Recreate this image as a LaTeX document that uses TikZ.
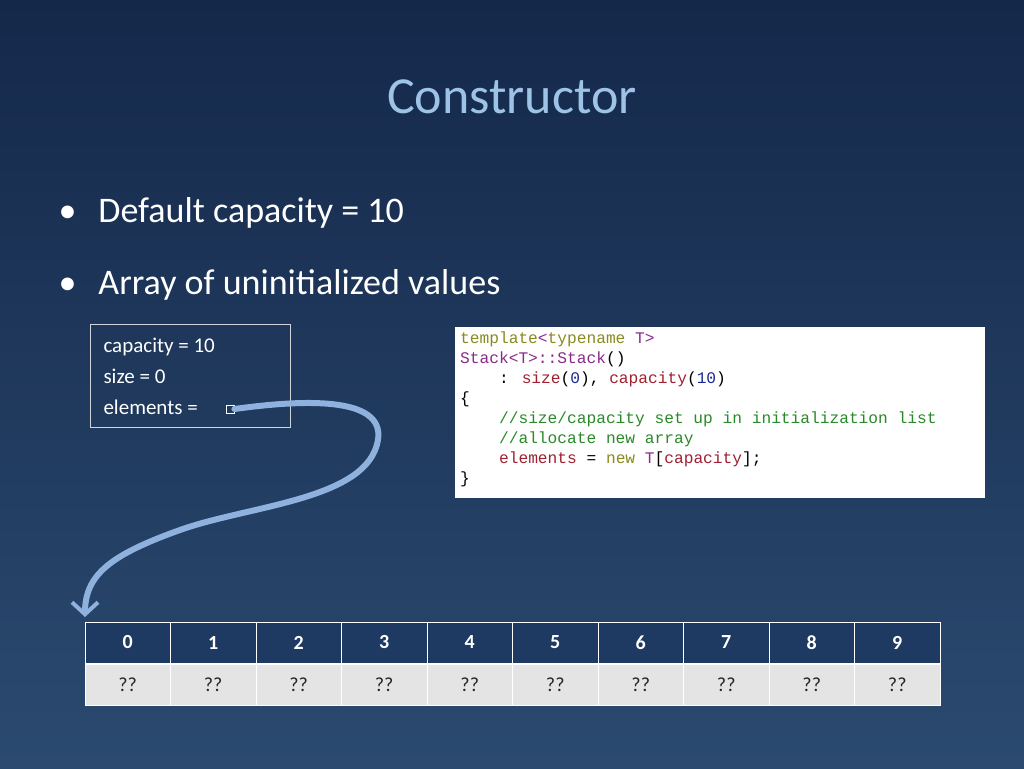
\documentclass[tikz,border=0pt]{standalone}
\usepackage{fontspec}
\setmainfont{Carlito}
\newfontfamily\codefont{Liberation Mono}
\usetikzlibrary{arrows.meta}
\definecolor{bgtop}{HTML}{14284A}
\definecolor{bgbot}{HTML}{2B4A70}
\definecolor{ttl}{HTML}{9DC3E6}
\definecolor{arr}{HTML}{8EB1DD}
\definecolor{hdr}{HTML}{1E3A62}
\definecolor{cell}{HTML}{E4E4E4}
\definecolor{kw}{HTML}{8A8A20}
\definecolor{ty}{HTML}{8A2A8A}
\definecolor{fn}{HTML}{A02030}
\definecolor{num}{HTML}{1A2A90}
\definecolor{cm}{HTML}{2A8A2A}
\tikzset{
 hcell/.style={draw=white,line width=1pt,fill=hdr,minimum width=85.5pt,minimum height=41pt,inner sep=0,text=white,font=\fontsize{20}{24}\selectfont\bfseries},
 vcell/.style={draw=white,line width=1pt,fill=cell,minimum width=85.5pt,minimum height=41pt,inner sep=0,text=black!85,font=\fontsize{20}{24}\selectfont},
 bul/.style={anchor=west,text=white,font=\fontsize{36}{40}\selectfont},
}
\begin{document}
\begin{tikzpicture}[x=1pt,y=-1pt]
\shade[top color=bgtop,bottom color=bgbot] (0,0) rectangle (1024,768);
\useasboundingbox (0,0) rectangle (1024,768);
\node[text=ttl,font=\fontsize{52}{56}\selectfont] (title) at (512,97) {Constructor};
\node[bul] (b1) at (55,213) {\textbullet\hspace{22pt}Default capacity = 10};
\node[bul] (b2) at (55,285) {\textbullet\hspace{22pt}Array of uninitialized values};
\node[draw=white!80!bgtop,line width=1pt,minimum width=200pt,minimum height=103pt,anchor=north west] (obj) at (90,324) {};
\node[anchor=west,text=white,font=\fontsize{21}{31}\selectfont,align=left] (objt) at (100,376) {capacity = 10\\size = 0\\elements = };
\node[draw=white,line width=0.8pt,minimum size=8pt,inner sep=0] (ptr) at (230,409) {};
\node[fill=white,minimum width=530pt,minimum height=171pt,anchor=north west,inner sep=0] (code) at (455,327) {};
\node[anchor=north west,font=\codefont\fontsize{16.2}{20}\selectfont,align=left,inner sep=0] (codet) at (460,332) {%
\textcolor{kw}{template}\textcolor{ty}{<}\textcolor{kw}{typename} \textcolor{ty}{T>}\\
\textcolor{ty}{Stack<T>::Stack}()\\
\phantom{xxxx}: \textcolor{fn}{size}(\textcolor{num}{0}), \textcolor{fn}{capacity}(\textcolor{num}{10})\\
\{\\
\phantom{xxxx}\textcolor{cm}{//size/capacity set up in initialization list}\\
\phantom{xxxx}\textcolor{cm}{//allocate new array}\\
\phantom{xxxx}\textcolor{fn}{elements} = \textcolor{kw}{new} \textcolor{ty}{T}[\textcolor{fn}{capacity}];\\
\}};
\foreach \i in {0,...,9} {
 \node[hcell] (h\i) at ({85+85.5*\i+42.75},642.5) {\i};
 \node[vcell] (v\i) at ({85+85.5*\i+42.75},684.5) {??};
}
\coordinate (tip) at (85,617);
\draw[arr,line width=6pt,line cap=round,-{Straight Barb[length=12pt,width=26pt,line width=4pt]}]
 (ptr.east) .. controls (300,400) and (385,395) .. (378,440)
 .. controls (368,500) and (250,505) .. (180,530)
 .. controls (110,555) and (85,575) .. (tip);
\end{tikzpicture}
\end{document}
